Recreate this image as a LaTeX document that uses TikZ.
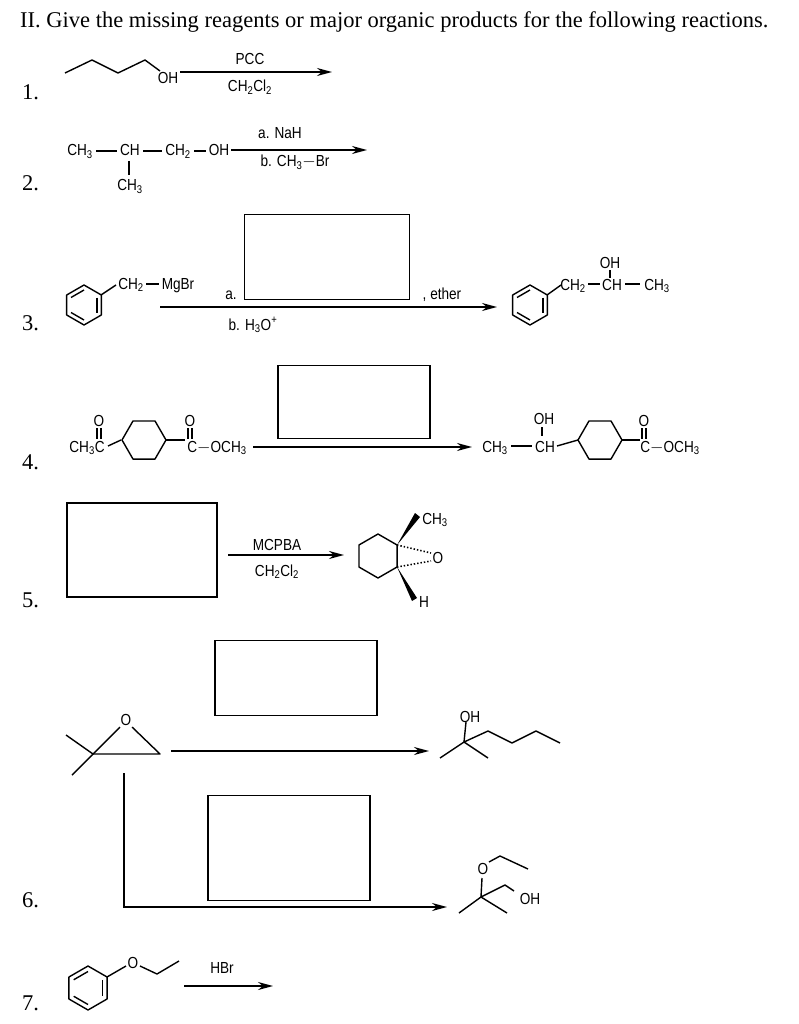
\documentclass[tikz,border=0pt]{standalone}
\usepackage{fontspec}
\setmainfont{Liberation Serif}
\newfontfamily\lab[FakeStretch=0.85]{Liberation Sans}
\usetikzlibrary{arrows.meta,calc}
\newcommand\subs[1]{\textsubscript{#1}}
\newcommand\hexring[4]{% cx cy r startangle
  \draw[bond] ($(#1,#2)+(#4:#3)$) \foreach \k in {1,...,5}{ -- ($(#1,#2)+(#4+60*\k:#3)$)} -- cycle;}
\newcommand\benz[3]{% cx cy r (pointy top)
  \hexring{#1}{#2}{#3}{30}
  \draw[bond] ($(#1,#2)+(90:#3*0.75)$) -- ($(#1,#2)+(150:#3*0.75)$);
  \draw[bond] ($(#1,#2)+(210:#3*0.75)$) -- ($(#1,#2)+(270:#3*0.75)$);
  \draw[bond] ($(#1,#2)+(330:#3*0.75)$) -- ($(#1,#2)+(30:#3*0.75)$);}
\begin{document}
\begin{tikzpicture}[x=1pt,y=-1pt,
  bond/.style={line width=1.4pt,line join=round},
  rxn/.style={line width=1.6pt,-{Stealth[length=15pt,width=8pt]}},
  box/.style={draw,line width=1.4pt},
  t/.style={font=\lab\fontsize{16}{18}\selectfont,inner sep=0pt,anchor=base},
  num/.style={font=\fontsize{22.5}{26}\selectfont,inner sep=0pt}]
\useasboundingbox[fill=white] (0,0) rectangle (799,1024);
\node[num,anchor=west] (title) at (20,22) {II. Give the missing reagents or major organic products for the following reactions.};
\foreach \n/\yy in {1/92,2/183,3/323,4/462,5/600,6/900,7/1003}
  \node[num,anchor=west] (n\n) at (22,\yy) {\n.};

% ---- 1
\draw[bond] (65,73) -- (92,60) -- (118,73) -- (145,60) -- (160,71);
\node[t] (oh1) at (168,84) {OH};
\coordinate (a1s) at (180,72); \coordinate (a1e) at (332,72);
\draw[rxn] (a1s) -- (a1e);
\node[t] (pcc) at (250,65) {PCC};
\node[t] (cl1) at (250,92) {CH\subs{2}Cl\subs{2}};

% ---- 2
\node[t] (c2a) at (80,156) {CH\subs{3}};
\node[t] (c2b) at (130,156) {CH};
\node[t] (c2c) at (178,156) {CH\subs{2}};
\node[t] (c2d) at (219,156) {OH};
\node[t] (me2) at (130,191) {CH\subs{3}};
\draw[bond] (96,151) -- (117,151);
\draw[bond] (143,151) -- (162,151);
\draw[bond] (194,151) -- (206,151);
\draw[bond] (129,161) -- (129,175);
\coordinate (a2s) at (231,150); \coordinate (a2e) at (367,150);
\draw[rxn] (a2s) -- (a2e);
\node[t] (nah) at (280,139) {a. NaH};
\node[t] (mebr) at (295,167) {b. CH\subs{3}$-$Br};

% ---- 3
\benz{84}{305}{20}
\draw[bond] (101,295) -- (116,285);
\node[t] (mg1) at (131,289) {CH\subs{2}};
\node[t] (mg2) at (178,289) {MgBr};
\draw[bond] (146,284) -- (159,284);
\node[box,minimum width=165pt,minimum height=85pt] (box3) at (327,257) {};
\node[t] (a3) at (231,299) {a.};
\node[t] (eth) at (442,299) {, ether};
\coordinate (a3s) at (160,307); \coordinate (a3e) at (497,307);
\draw[rxn] (a3s) -- (a3e);
\node[t] (h3o) at (253,330) {b. H\subs{3}O\textsuperscript{+}};
\benz{530}{305}{20}
\draw[bond] (547,295) -- (561,285);
\node[t] (p3a) at (573,290) {CH\subs{2}};
\node[t] (p3b) at (612,290) {CH};
\node[t] (p3c) at (657,290) {CH\subs{3}};
\draw[bond] (588,284) -- (600,284);
\draw[bond] (625,284) -- (640,284);
\node[t] (oh3) at (610,268) {OH};
\draw[bond] (610,270) -- (610,278);

% ---- 4
\node[t] (ac) at (87,452) {CH\subs{3}C};
\node[t] (o4a) at (99,426) {O};
\draw[bond] (97,428) -- (97,439); \draw[bond] (101,428) -- (101,439);
\draw[bond] (108,446) -- (121,440);
\hexring{144}{440}{22}{0}
\draw[bond] (166,440) -- (185,440);
\node[t] (es4) at (217,452) {C$-$OCH\subs{3}};
\node[t] (o4b) at (190,426) {O};
\draw[bond] (188,428) -- (188,439); \draw[bond] (192,428) -- (192,439);
\node[box,minimum width=152pt,minimum height=73pt] (box4) at (354,402) {};
\coordinate (a4s) at (253,447); \coordinate (a4e) at (472,447);
\draw[rxn] (a4s) -- (a4e);
\node[t] (p4a) at (495,452) {CH\subs{3}};
\node[t] (p4b) at (545,452) {CH};
\draw[bond] (511,446) -- (532,446);
\node[t] (oh4) at (544,424) {OH};
\draw[bond] (542,427) -- (542,436);
\draw[bond] (557,446) -- (578,440);
\hexring{600}{440}{22}{0}
\draw[bond] (622,440) -- (640,440);
\node[t] (es4b) at (670,452) {C$-$OCH\subs{3}};
\node[t] (o4c) at (644,426) {O};
\draw[bond] (642,428) -- (642,439); \draw[bond] (646,428) -- (646,439);

% ---- 5
\node[box,minimum width=150pt,minimum height=94pt] (box5) at (142,550) {};
\node[t] (mc) at (277,550) {MCPBA};
\node[t] (cl5) at (277,576) {CH\subs{2}Cl\subs{2}};
\coordinate (a5s) at (228,555); \coordinate (a5e) at (344,555);
\draw[rxn] (a5s) -- (a5e);
\hexring{378}{556}{22}{30}
\coordinate (c1) at ($(378,556)+(-30:22)$);
\coordinate (c2) at ($(378,556)+(30:22)$);
\fill (c1) -- (420,517) -- (415,513) -- cycle;
\fill (c2) -- (417,598) -- (412,601) -- cycle;
\node[t] (me5) at (435,524) {CH\subs{3}};
\node[t] (o5) at (438,563) {O};
\node[t] (h5) at (424,607) {H};
\draw[bond,dotted,line width=1.6pt] (c1) -- (431,553);
\draw[bond,dotted,line width=1.6pt] (c2) -- (431,561);

% ---- 6
\draw[bond] (66,735) -- (93,754) -- (72,775);
\node[t] (o6) at (126,725) {O};
\draw[bond] (93,754) -- (120,727);
\draw[bond] (132,727) -- (160,754) -- (93,754);
\node[box,minimum width=162pt,minimum height=75pt] (box6a) at (296,678) {};
\coordinate (a6s) at (171,751); \coordinate (a6e) at (429,751);
\draw[rxn] (a6s) -- (a6e);
\draw[bond] (440,758) -- (464,742) -- (488,758);
\draw[bond] (464,742) -- (466,722);
\node[t] (oh6) at (470,722) {OH};
\draw[bond] (464,742) -- (488,731) -- (512,743) -- (536,731) -- (560,743);
\node[box,minimum width=162pt,minimum height=105pt] (box6b) at (289,848) {};
\coordinate (a6t) at (124,773); \coordinate (a6c) at (124,907); \coordinate (a6f) at (447,907);
\draw[rxn] (a6t) -- (a6c) -- (a6f);
\draw[bond] (459,913) -- (481,897) -- (507,913);
\draw[bond] (481,897) -- (482,878);
\node[t] (o6b) at (483,874) {O};
\draw[bond] (489,862) -- (500,856) -- (528,869);
\draw[bond] (481,897) -- (505,885) -- (514,891);
\node[t] (oh6b) at (530,904) {OH};

% ---- 7
\benz{88}{988}{22}
\draw[bond] (107,977) -- (126,966);
\node[t] (o7) at (133,968) {O};
\draw[bond] (140,966) -- (157,974) -- (179,961);
\node[t] (hbr) at (222,973) {HBr};
\coordinate (a7s) at (184,986); \coordinate (a7e) at (273,986);
\draw[rxn] (a7s) -- (a7e);
\end{tikzpicture}
\end{document}
